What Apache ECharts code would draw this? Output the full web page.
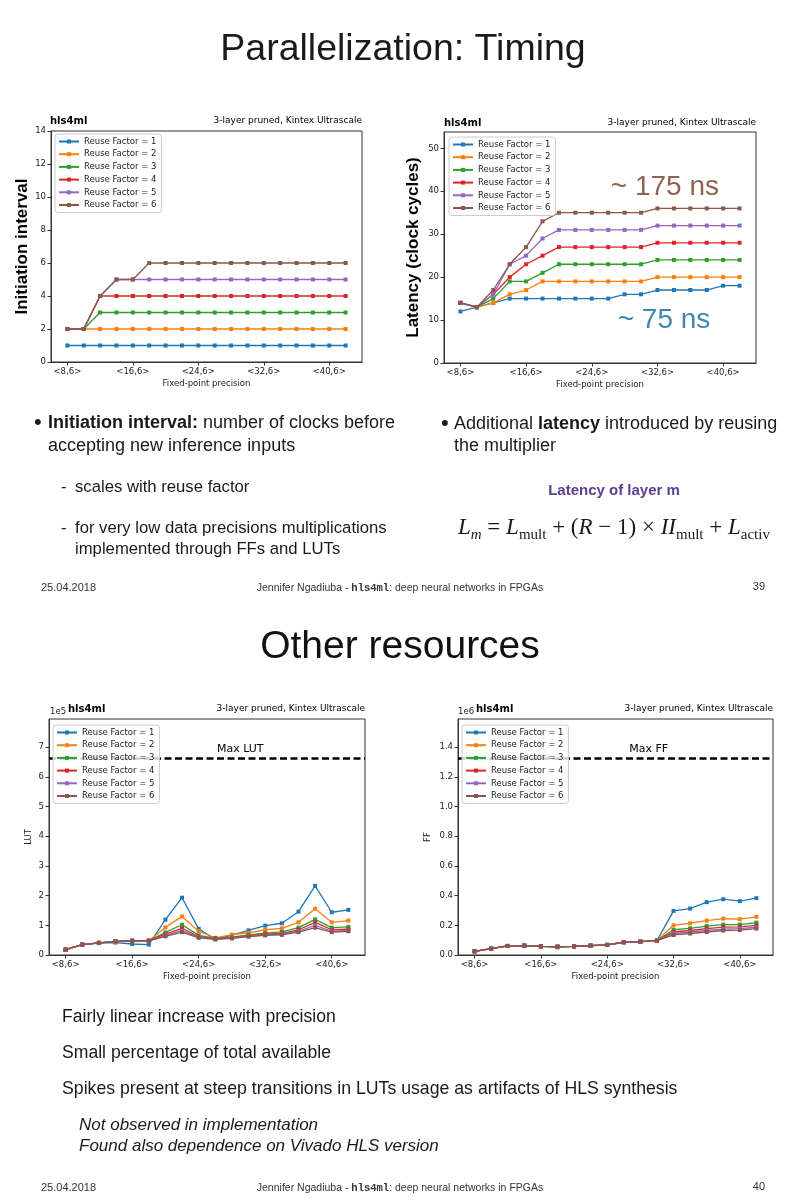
<!DOCTYPE html>
<html><head><meta charset="utf-8">
<script src="https://cdn.jsdelivr.net/npm/echarts@6/dist/echarts.min.js"></script>
<style>html,body{margin:0;padding:0;background:#fff}#c{width:800px;height:1200px}</style>
</head><body><div id="c"></div>
<script>
// ---------- data ----------
const precisionBits = [8,10,12,14,16,18,20,22,24,26,28,30,32,34,36,38,40,42];
const tickBits = [8,16,24,32,40];
const tickLabels = ['<8,6>','<16,6>','<24,6>','<32,6>','<40,6>'];
const seriesNames = ['Reuse Factor = 1','Reuse Factor = 2','Reuse Factor = 3','Reuse Factor = 4','Reuse Factor = 5','Reuse Factor = 6'];

// Initiation interval
const iiRF1 = [1,1,1,1,1,1,1,1,1,1,1,1,1,1,1,1,1,1];
const iiRF2 = [2,2,2,2,2,2,2,2,2,2,2,2,2,2,2,2,2,2];
const iiRF3 = [2,2,3,3,3,3,3,3,3,3,3,3,3,3,3,3,3,3];
const iiRF4 = [2,2,4,4,4,4,4,4,4,4,4,4,4,4,4,4,4,4];
const iiRF5 = [2,2,4,5,5,5,5,5,5,5,5,5,5,5,5,5,5,5];
const iiRF6 = [2,2,4,5,5,6,6,6,6,6,6,6,6,6,6,6,6,6];
const iiTicks = [0,2,4,6,8,10,12,14];

// Latency (clock cycles)
const latRF1 = [12,13,14,15,15,15,15,15,15,15,16,16,17,17,17,17,18,18];
const latRF2 = [14,13,14,16,17,19,19,19,19,19,19,19,20,20,20,20,20,20];
const latRF3 = [14,13,15,19,19,21,23,23,23,23,23,23,24,24,24,24,24,24];
const latRF4 = [14,13,16,20,23,25,27,27,27,27,27,27,28,28,28,28,28,28];
const latRF5 = [14,13,16,23,25,29,31,31,31,31,31,31,32,32,32,32,32,32];
const latRF6 = [14,13,17,23,27,33,35,35,35,35,35,35,36,36,36,36,36,36];
const latTicks = [0,10,20,30,40,50];

// LUT
const lutRF1 = [18000,35000,40000,42000,37000,35000,119000,193000,88000,53000,67000,83000,99000,107000,146000,233000,144000,152000];
const lutRF2 = [18000,35000,41000,45000,48000,48000,93000,130000,80000,58000,69000,75000,85000,90000,110000,156000,110000,116000];
const lutRF3 = [18000,35000,41000,45000,48000,48000,76000,102000,66000,57000,60000,68000,74000,78000,92000,120000,92000,95000];
const lutRF4 = [18000,35000,41000,46000,48000,48000,70000,90000,62000,55000,58000,65000,70000,73000,85000,110000,85000,87000];
const lutRF5 = [18000,35000,41000,46000,48000,48000,66000,82000,60000,54000,57000,63000,68000,70000,80000,100000,80000,82000];
const lutRF6 = [18000,35000,41000,46000,48000,48000,63000,77000,58000,53000,56000,62000,66000,68000,77000,92000,77000,80000];
const lutTicks = [0,100000,200000,300000,400000,500000,600000,700000];
const maxLUT = 663360;

// FF
const ffRF1 = [25000,43000,61000,63000,58000,52000,58000,63000,68000,86000,90000,97000,297000,313000,356000,376000,363000,383000];
const ffRF2 = [25000,43000,61000,63000,58000,56000,58000,63000,68000,86000,90000,97000,200000,214000,232000,245000,241000,257000];
const ffRF3 = [25000,43000,61000,63000,58000,56000,58000,63000,68000,86000,90000,97000,170000,180000,195000,205000,205000,218000];
const ffRF4 = [25000,43000,61000,63000,58000,56000,58000,63000,68000,86000,90000,97000,155000,165000,178000,188000,190000,200000];
const ffRF5 = [25000,43000,61000,63000,58000,56000,58000,63000,68000,86000,90000,97000,145000,155000,165000,175000,178000,187000];
const ffRF6 = [25000,43000,61000,63000,58000,56000,58000,63000,68000,86000,90000,97000,135000,145000,155000,165000,168000,178000];
const ffTicks = [0,200000,400000,600000,800000,1000000,1200000,1400000];
const maxFF = 1326720;

// ---------- style ----------
const colors = ['#1f77b4','#ff7f0e','#2ca02c','#d62728','#9467bd','#8c564b'];
const CF = "'DejaVu Sans', sans-serif";
const SF = "'Liberation Sans', Arial, Helvetica, sans-serif";
const SERIF = "'Liberation Serif', serif";
const TXT = '#1a1a1a';

const grids = [
  {left:51, top:131, width:311, height:231},
  {left:444, top:132, width:312, height:231},
  {left:49, top:719, width:316, height:236},
  {left:458, top:719, width:315, height:236}
];

function xAxis(i){
  return {
    type:'value', gridIndex:i, min:6, max:44,
    splitLine:{show:false},
    axisLine:{show:true, onZero:false, lineStyle:{color:'#333', width:1}},
    axisTick:{show:true, customValues:tickBits, length:3.5, inside:false, lineStyle:{color:'#333'}},
    axisLabel:{customValues:tickBits, formatter:v=>tickLabels[tickBits.indexOf(v)], fontSize:8.5, color:'#222', fontFamily:CF, margin:5},
    name:'Fixed-point precision', nameLocation:'middle', nameGap:17,
    nameTextStyle:{fontSize:8.5, color:'#222', fontFamily:CF, verticalAlign:'top'}
  };
}
function yAxis(i, o){
  return Object.assign({
    type:'value', gridIndex:i, min:0,
    splitLine:{show:false},
    axisLine:{show:true, onZero:false, lineStyle:{color:'#333', width:1}},
    axisTick:{show:true, customValues:o.ticks, length:3.5, lineStyle:{color:'#333'}},
    axisLabel:{customValues:o.ticks, formatter:o.fmt, fontSize:8.5, color:'#222', fontFamily:CF, margin:5},
    nameLocation:'middle'
  }, o.extra);
}

const xAxes = [0,1,2,3].map(xAxis);
const yAxes = [
  yAxis(0,{ticks:iiTicks, fmt:v=>String(v), extra:{max:14, name:'Initiation interval', nameGap:18,
    nameTextStyle:{fontSize:17, fontWeight:'bold', fontFamily:SF, color:'#000'}}}),
  yAxis(1,{ticks:latTicks, fmt:v=>String(v), extra:{max:53.8, name:'Latency (clock cycles)', nameGap:22,
    nameTextStyle:{fontSize:17, fontWeight:'bold', fontFamily:SF, color:'#000'}}}),
  yAxis(2,{ticks:lutTicks, fmt:v=>String(Math.round(v/1e5)), extra:{max:795000, name:'LUT', nameGap:16,
    nameTextStyle:{fontSize:8.5, fontFamily:CF, color:'#222'}}}),
  yAxis(3,{ticks:ffTicks, fmt:v=>(v/1e6).toFixed(1), extra:{max:1590000, name:'FF', nameGap:26,
    nameTextStyle:{fontSize:8.5, fontFamily:CF, color:'#222'}}})
];

const panels = [
  [iiRF1,iiRF2,iiRF3,iiRF4,iiRF5,iiRF6],
  [latRF1,latRF2,latRF3,latRF4,latRF5,latRF6],
  [lutRF1,lutRF2,lutRF3,lutRF4,lutRF5,lutRF6],
  [ffRF1,ffRF2,ffRF3,ffRF4,ffRF5,ffRF6]
];

const series = [];
panels.forEach((arrs, g) => {
  arrs.forEach((arr, k) => {
    series.push({
      type:'line', name:seriesNames[k], xAxisIndex:g, yAxisIndex:g,
      data: precisionBits.map((b, i) => [b, arr[i]]),
      symbol:'rect', symbolSize:4, color:colors[k],
      lineStyle:{width:1.3, color:colors[k]}, itemStyle:{color:colors[k]},
      silent:true, z:2+k*0.01
    });
  });
});

function maxMarks(seriesIdx, value, label){
  const s = series[seriesIdx];
  s.markLine = {silent:true, symbol:['none','none'], label:{show:false},
    lineStyle:{color:'#000', type:[7,3.5], width:2.6}, data:[{yAxis:value}], z:3};
  s.markPoint = {silent:true, symbol:'circle', symbolSize:0,
    label:{show:true, position:'top', distance:3, formatter:label, fontSize:11, color:'#000', fontFamily:CF},
    data:[{coord:[29, value]}]};
}
maxMarks(12, maxLUT, 'Max LUT');
maxMarks(18, maxFF, 'Max FF');

// latency annotations
series[6].markPoint = {silent:true, symbol:'circle', symbolSize:0,
  label:{show:true, position:'inside', fontSize:28, color:'#8f6352', fontFamily:SF},
  data:[{coord:[32.9, 41], label:{formatter:'~ 175 ns', color:'#8f6352'}},
        {coord:[32.8, 10], label:{formatter:'~ 75 ns', color:'#3f86b5'}}]};

function legend(left, top){
  return {
    data:seriesNames, left, top, orient:'vertical', itemWidth:20, itemHeight:5, itemGap:3.7,
    padding:[3,5,3,3], backgroundColor:'rgba(255,255,255,0.8)', borderColor:'#ccc', borderWidth:1, borderRadius:3,
    textStyle:{fontSize:8.5, color:'#222', fontFamily:CF}, selectedMode:false, inactiveColor:'#ccc'
  };
}

// ---------- text ----------
function t(x, y, text, o){
  return {type:'text', x, y, silent:true, z:10,
    style:Object.assign({text, fill:TXT, fontFamily:SF, fontSize:18, align:'left', verticalAlign:'middle'}, o||{})};
}
const footerRich = {m:{fontFamily:"'Liberation Mono', monospace", fontWeight:'bold', fontSize:10.5, color:'#333'}};
const boldRich = {b:{fontWeight:'bold', fontSize:18, fontFamily:SF, color:TXT}};
const graphics = [
  t(403, 50, '{a|Parallelization: }{b|Timing}', {align:'center', rich:{
    a:{fontSize:37.5, fontFamily:SF, color:'#111'}, b:{fontSize:37.5, fontFamily:SF, color:'#6a4c9c'}}}),
  t(400, 647, 'Other resources', {align:'center', fontSize:39, fill:'#111'}),

  // chart headers
  t(50, 121, 'hls4ml', {fontFamily:CF, fontWeight:'bold', fontSize:10, fill:'#000'}),
  t(362, 121, '3-layer pruned, Kintex Ultrascale', {fontFamily:CF, fontSize:9, align:'right', fill:'#000'}),
  t(444, 123, 'hls4ml', {fontFamily:CF, fontWeight:'bold', fontSize:10, fill:'#000'}),
  t(756, 123, '3-layer pruned, Kintex Ultrascale', {fontFamily:CF, fontSize:9, align:'right', fill:'#000'}),
  t(68, 709, 'hls4ml', {fontFamily:CF, fontWeight:'bold', fontSize:10, fill:'#000'}),
  t(365, 709, '3-layer pruned, Kintex Ultrascale', {fontFamily:CF, fontSize:9, align:'right', fill:'#000'}),
  t(50, 712, '1e5', {fontFamily:CF, fontSize:8.5, fill:'#222'}),
  t(476, 709, 'hls4ml', {fontFamily:CF, fontWeight:'bold', fontSize:10, fill:'#000'}),
  t(773, 709, '3-layer pruned, Kintex Ultrascale', {fontFamily:CF, fontSize:9, align:'right', fill:'#000'}),
  t(458, 712, '1e6', {fontFamily:CF, fontSize:8.5, fill:'#222'}),

  // slide 1 bullets
  t(34, 423, '•', {fontSize:22}),
  t(48, 423, '{b|Initiation interval:} number of clocks before', {rich:boldRich}),
  t(48, 446, 'accepting new inference inputs'),
  t(61, 487, '-', {fontSize:16.7}),
  t(75, 487, 'scales with reuse factor', {fontSize:16.7}),
  t(61, 528, '-', {fontSize:16.7}),
  t(75, 528, 'for very low data precisions multiplications', {fontSize:16.7}),
  t(75, 549, 'implemented through FFs and LUTs', {fontSize:16.7}),
  t(441, 424, '•', {fontSize:22}),
  t(454, 424, 'Additional {b|latency} introduced by reusing', {rich:boldRich}),
  t(454, 446, 'the multiplier'),
  t(614, 491, 'Latency of layer m', {align:'center', fontWeight:'bold', fontSize:15, fill:'#5b3f8c'}),
  t(458, 528, '{i|L}{is|m}{n| = }{i|L}{s|mult}{n| + (}{i|R}{n| − 1) × }{i|II}{s|mult}{n| + }{i|L}{s|activ}', {
    rich:{
      i:{fontFamily:SERIF, fontStyle:'italic', fontSize:23, lineHeight:29, color:'#111'},
      n:{fontFamily:SERIF, fontSize:23, lineHeight:29, color:'#111'},
      s:{fontFamily:SERIF, fontSize:15, lineHeight:19, verticalAlign:'bottom', color:'#111'},
      is:{fontFamily:SERIF, fontStyle:'italic', fontSize:15, lineHeight:19, verticalAlign:'bottom', color:'#111'}
    }}),
  // footer 1
  t(41, 588, '25.04.2018', {fontSize:11, fill:'#333'}),
  t(400, 588, 'Jennifer Ngadiuba - {m|hls4ml}: deep neural networks in FPGAs', {align:'center', fontSize:10.5, fill:'#333', rich:footerRich}),
  t(765, 587, '39', {align:'right', fontSize:11, fill:'#333'}),

  // slide 2 text
  t(62, 1017, 'Fairly linear increase with precision', {fontSize:17.6}),
  t(62, 1053, 'Small percentage of total available', {fontSize:17.6}),
  t(62, 1089, 'Spikes present at steep transitions in LUTs usage as artifacts of HLS synthesis', {fontSize:17.7}),
  t(79, 1125, 'Not observed in implementation', {fontSize:17, fontStyle:'italic'}),
  t(79, 1146, 'Found also dependence on Vivado HLS version', {fontSize:17, fontStyle:'italic'}),
  t(41, 1188, '25.04.2018', {fontSize:11, fill:'#333'}),
  t(400, 1188, 'Jennifer Ngadiuba - {m|hls4ml}: deep neural networks in FPGAs', {align:'center', fontSize:10.5, fill:'#333', rich:footerRich}),
  t(765, 1187, '40', {align:'right', fontSize:11, fill:'#333'})
];

const chart = echarts.init(document.getElementById('c'), null, {renderer:'canvas'});
chart.setOption({
  animation:false,
  backgroundColor:'#fff',
  grid: grids.map(g => Object.assign({show:true, borderColor:'#333', borderWidth:1, backgroundColor:'transparent', containLabel:false}, g)),
  xAxis: xAxes,
  yAxis: yAxes,
  legend: [legend(55,134), legend(449,137), legend(53,725), legend(462,725)],
  series,
  graphic: graphics
});
</script>
</body></html>
